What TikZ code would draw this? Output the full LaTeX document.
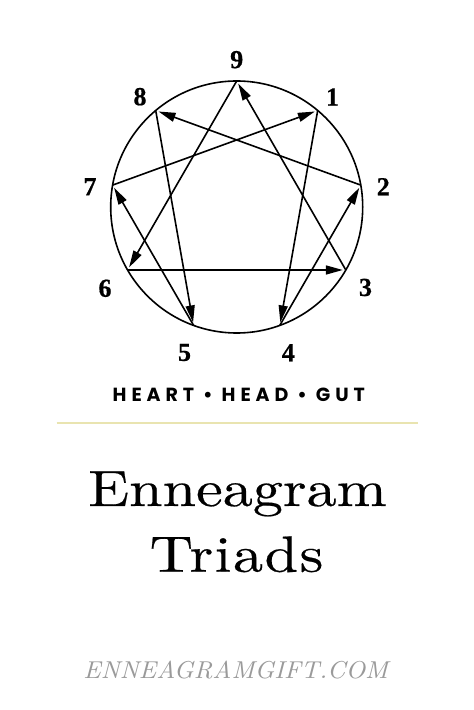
\documentclass[tikz,border=0pt]{standalone}
\usepackage{fontspec}
\usetikzlibrary{arrows.meta,calc}
\newfontfamily\digitfont{Liberation Serif}[FakeBold=0.6]
\newfontfamily\popfont{Poppins}[LetterSpace=26]
\newfontfamily\titlefont{lmroman10-regular.otf}[FakeStretch=1.18,FakeBold=0.4]
\newfontfamily\titlefontwide{lmroman10-regular.otf}[FakeStretch=1.18,FakeBold=0.4,LetterSpace=3]
\newfontfamily\urlfont{lmroman10-italic.otf}[FakeStretch=1.05]
\definecolor{rulecol}{HTML}{E9E4B0}
\definecolor{urlgray}{HTML}{9A9A9A}
\begin{document}
\begin{tikzpicture}[x=1pt,y=1pt,
  ring/.style={line width=1.6pt},
  arr/.style={line width=1.6pt,-{Triangle[length=17pt,width=9pt]},shorten >=3pt},
  digit/.style={inner sep=0pt,font=\digitfont\bfseries\fontsize{26}{26}\selectfont},
  triad/.style={inner sep=0pt,anchor=base,font=\popfont\bfseries\fontsize{19}{19}\selectfont},
  title/.style={inner sep=0pt,anchor=base,font=\titlefont\fontsize{51}{60}\selectfont},
  url/.style={inner sep=0pt,anchor=base,text=urlgray,font=\urlfont\fontsize{24.4}{28}\selectfont}]
\useasboundingbox[fill=white] (0,0) rectangle (474,710);
\coordinate (c) at (236.7,503);
\draw[ring] (c) circle[radius=126];
\foreach \n/\a in {9/90,1/50,2/10,3/-30,4/-70,5/-110,6/-150,7/170,8/130}
  \coordinate (p\n) at ($(c)+(\a:126)$);
% labels
\node[digit] (l9) at (236.7,650.3) {9};
\node[digit] (l1) at (332.5,613.0) {1};
\node[digit] (l2) at (383.3,523.3) {2};
\node[digit] (l3) at (365.5,422.5) {3};
\node[digit] (l4) at (288.3,357.3) {4};
\node[digit] (l5) at (184.5,357.5) {5};
\node[digit] (l6) at (105.0,421.7) {6};
\node[digit] (l7) at (90.0,523.3) {7};
\node[digit] (l8) at (140.0,613.3) {8};
% connectors
\draw[arr] (p1) -- (p4);
\draw[arr] (p4) -- (p2);
\draw[arr] (p2) -- (p8);
\draw[arr] (p8) -- (p5);
\draw[arr] (p5) -- (p7);
\draw[arr] (p7) -- (p1);
\draw[arr] (p9) -- (p6);
\draw[arr] (p6) -- (p3);
\draw[arr] (p3) -- (p9);
% texts
\node[triad] (tri) at (238.8,308.3) {HEART • HEAD • GUT};
\draw[rulecol,line width=2pt] (56.7,286.7) -- (418.3,286.7);
\node[title] (t1) at (237.5,204) {Enneagram};
\node[title,font=\titlefontwide\fontsize{51}{60}\selectfont] (t2) at (236.5,138.3) {Triads};
\node[url] (site) at (235.8,31) {ENNEAGRAMGIFT.COM};
\end{tikzpicture}
\end{document}
